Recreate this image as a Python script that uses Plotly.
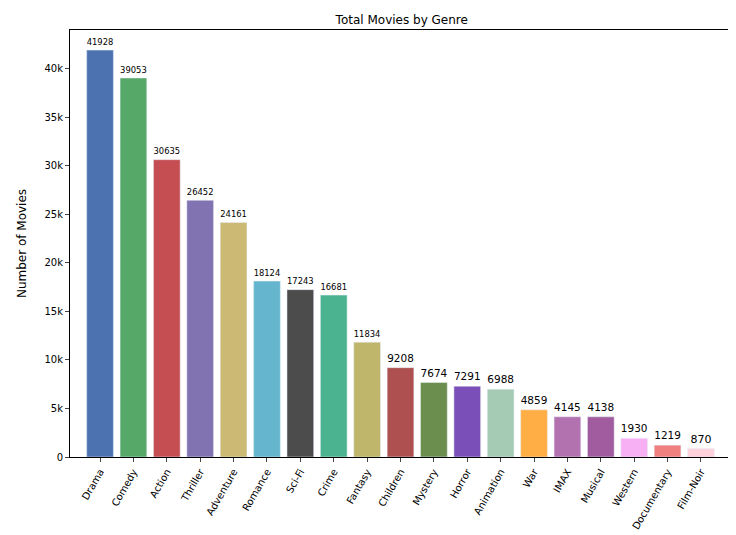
import plotly.graph_objects as go

genres = ["Drama", "Comedy", "Action", "Thriller", "Adventure", "Romance", "Sci-Fi", "Crime",
          "Fantasy", "Children", "Mystery", "Horror", "Animation", "War", "IMAX", "Musical",
          "Western", "Documentary", "Film-Noir"]
counts = [41928, 39053, 30635, 26452, 24161, 18124, 17243, 16681, 11834, 9208, 7674, 7291,
          6988, 4859, 4145, 4138, 1930, 1219, 870]
colors = ["#4C72B0", "#55A868", "#C44E52", "#8172B2", "#CCB974", "#64B5CD", "#4C4C4C", "#4CB391",
          "#BFB66B", "#AE5050", "#6B8E4E", "#7B4FB8", "#A6CBB5", "#FFAD45", "#B272B0", "#A05C9E",
          "#F7B0F4", "#F07F7F", "#FFD1DC"]

fig = go.Figure(go.Bar(
    x=genres, y=counts, marker_color=colors, width=0.8,
    text=[str(c) for c in counts], textposition="outside", cliponaxis=False,
    textfont=dict(size=11, color="black"),
))
fig.update_layout(
    width=736, height=535,
    margin=dict(l=62, r=13, t=22, b=78),
    plot_bgcolor="white", paper_bgcolor="white",
    font=dict(family="DejaVu Sans", size=10, color="black"),
    title=dict(text="Total Movies by Genre", x=0.535, y=0.985, xanchor="center",
               font=dict(size=12)),
    showlegend=False,
)
fig.update_xaxes(tickangle=-60, showline=True, linecolor="black", mirror=True,
                 ticks="outside", ticklen=4, range=[-0.9, 18.9])
fig.update_yaxes(title_text="Number of Movies", range=[0, 44000], dtick=5000,
                 showgrid=False, showline=True, linecolor="black", mirror=True,
                 ticks="outside", ticklen=4, zeroline=False)
fig.write_html("out.html")
